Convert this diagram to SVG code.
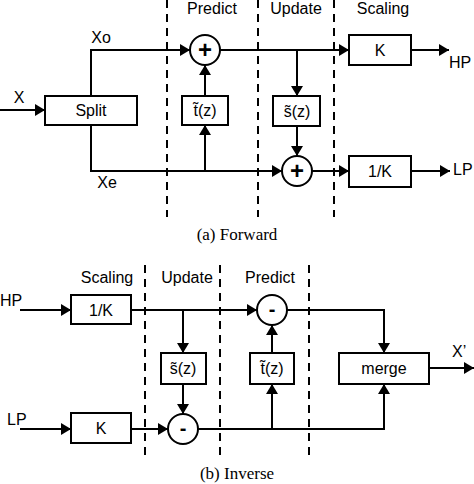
<svg xmlns="http://www.w3.org/2000/svg" width="474" height="484" viewBox="0 0 474 484">
<defs>
<marker id="ah" markerUnits="userSpaceOnUse" markerWidth="10" markerHeight="12" refX="10" refY="6" orient="auto">
<path d="M0,0 L10,6 L0,12 z" fill="#000"/>
</marker>
</defs>
<style>
.box{fill:#fff;stroke:#000;stroke-width:2}
.cir{fill:#fff;stroke:#000;stroke-width:2}
.ln{fill:none;stroke:#000;stroke-width:2}
.arr{fill:none;stroke:#000;stroke-width:2;marker-end:url(#ah)}
.dash{fill:none;stroke:#000;stroke-width:2;stroke-dasharray:8,6}
.t{font-family:"Liberation Sans",Arial,sans-serif;font-size:16px;fill:#000}
.c{text-anchor:middle}
.op{font-family:"Liberation Sans",Arial,sans-serif;font-weight:bold;fill:#000;text-anchor:middle}
.cap{font-family:"Liberation Serif","Times New Roman",serif;font-size:17px;fill:#000;text-anchor:middle}
</style>
<rect width="474" height="484" fill="#fff"/>

<g id="dividers">
<path class="dash" d="M167,0 V217 M258,0 V217 M334,0 V217"/>
<path class="dash" d="M145,265 V457 M220,265 V457 M309,265 V457"/>
</g>

<g id="connectors">
<path class="arr" d="M0,110 H45"/>
<path class="arr" d="M91,96 V50 H190"/>
<path class="arr" d="M91,125 V171 H282"/>
<path class="arr" d="M205,171 V125"/>
<path class="arr" d="M205,96 V65"/>
<path class="arr" d="M220,50 H349"/>
<path class="arr" d="M297,50 V96"/>
<path class="arr" d="M297,126 V156"/>
<path class="arr" d="M312,171 H349"/>
<path class="arr" d="M411,50 H449"/>
<path class="arr" d="M411,171 H450"/>

<path class="arr" d="M20,310 H71"/>
<path class="arr" d="M20,429 H71"/>
<path class="arr" d="M131,310 H257"/>
<path class="arr" d="M183,310 V353"/>
<path class="arr" d="M183,384 V414"/>
<path class="arr" d="M131,429 H168"/>
<path class="arr" d="M198,429 H384 V384"/>
<path class="arr" d="M272,429 V384"/>
<path class="arr" d="M272,353 V325"/>
<path class="arr" d="M287,310 H384 V353"/>
<path class="arr" d="M429,368 H474"/>
</g>

<g id="labels-top">
<text class="t c" x="212" y="14">Predict</text>
<text class="t c" x="296" y="14">Update</text>
<text class="t c" x="383" y="14">Scaling</text>
<text class="t c" x="19" y="103">X</text>
<text class="t c" x="101" y="43">Xo</text>
<text class="t c" x="107" y="188">Xe</text>
<text class="t" x="449" y="68">HP</text>
<text class="t" x="453" y="175">LP</text>
</g>

<g id="split"><rect class="box" x="45" y="96" width="92" height="29"/><text class="t c" x="91" y="116">Split</text></g>
<g id="t-fwd"><rect class="box" x="182" y="96" width="46" height="29"/><text class="t c" x="205" y="116">t̃(z)</text></g>
<g id="s-fwd"><rect class="box" x="273" y="96" width="47" height="30"/><text class="t c" x="297" y="117">s̃(z)</text></g>
<g id="k-fwd"><rect class="box" x="349" y="35" width="62" height="30"/><text class="t c" x="380" y="56">K</text></g>
<g id="invk-fwd"><rect class="box" x="349" y="156" width="62" height="31"/><text class="t c" x="380" y="177">1/K</text></g>
<g id="plus-top"><circle class="cir" cx="205" cy="50" r="15"/><text class="op" x="205" y="58" font-size="24">+</text></g>
<g id="plus-bot"><circle class="cir" cx="297" cy="171" r="15"/><text class="op" x="297" y="179" font-size="24">+</text></g>

<text class="cap" x="237" y="240">(a) Forward</text>

<g id="labels-bottom">
<text class="t c" x="107" y="283">Scaling</text>
<text class="t c" x="187" y="283">Update</text>
<text class="t c" x="270" y="283">Predict</text>
<text class="t" x="0" y="306">HP</text>
<text class="t" x="7" y="425">LP</text>
<text class="t" x="452" y="357">X’</text>
</g>

<g id="invk-inv"><rect class="box" x="71" y="295" width="60" height="29"/><text class="t c" x="101" y="316">1/K</text></g>
<g id="k-inv"><rect class="box" x="71" y="413" width="60" height="30"/><text class="t c" x="101" y="434">K</text></g>
<g id="s-inv"><rect class="box" x="161" y="353" width="45" height="31"/><text class="t c" x="183" y="374">s̃(z)</text></g>
<g id="t-inv"><rect class="box" x="250" y="353" width="44" height="31"/><text class="t c" x="272" y="374">t̃(z)</text></g>
<g id="merge"><rect class="box" x="339" y="353" width="90" height="31"/><text class="t c" x="384" y="374">merge</text></g>
<g id="minus-top"><circle class="cir" cx="272" cy="310" r="15"/><text class="op" x="272" y="316" font-size="20">-</text></g>
<g id="minus-bot"><circle class="cir" cx="183" cy="429" r="15"/><text class="op" x="183" y="435" font-size="20">-</text></g>

<text class="cap" x="237" y="479">(b) Inverse</text>
</svg>
